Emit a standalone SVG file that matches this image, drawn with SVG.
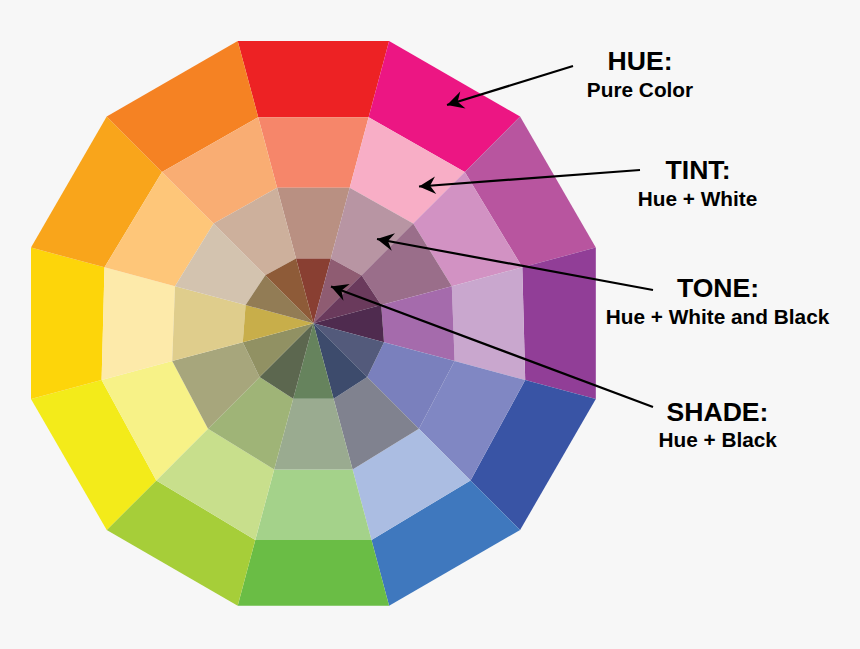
<svg xmlns="http://www.w3.org/2000/svg" width="860" height="649" viewBox="0 0 860 649">
<defs>
<style>
.lbl{font-family:"Liberation Sans",Arial,sans-serif;font-weight:bold;fill:#000;text-anchor:middle}
.t{font-size:26.6px}
.s{font-size:20.8px}
.arr{stroke:#000;stroke-width:2.2;fill:none;marker-end:url(#ah)}
</style>
<marker id="ah" markerUnits="userSpaceOnUse" markerWidth="20" markerHeight="20" viewBox="-16 -9 17 18" refX="0" refY="0" orient="auto">
<path d="M0,0 L-15,-8 L-10,0 L-15,8 Z" fill="#000"/>
</marker>
</defs>
<rect x="0" y="0" width="860" height="649" fill="#F7F7F7"/>
<g id="wheel">
<g id="hue-ring">
<polygon fill="#ED2224" points="237.7,40.9 389.1,40.9 368.6,117.2 258.2,117.2"/>
<polygon fill="#EC1683" points="389.1,40.9 520.1,116.6 464.8,171.9 368.6,117.2"/>
<polygon fill="#B8559F" points="520.1,116.6 595.8,247.6 522.3,267.3 464.8,171.9"/>
<polygon fill="#913E97" points="595.8,247.6 595.8,399.0 525.2,380.1 522.3,267.3"/>
<polygon fill="#3954A5" points="595.8,399.0 520.1,530.0 470.5,480.4 525.2,380.1"/>
<polygon fill="#3F78BE" points="520.1,530.0 389.1,605.7 371.5,540.0 470.5,480.4"/>
<polygon fill="#6ABD45" points="389.1,605.7 237.7,605.7 255.3,540.0 371.5,540.0"/>
<polygon fill="#A6CE39" points="237.7,605.7 106.7,530.0 156.3,480.4 255.3,540.0"/>
<polygon fill="#F3EB1A" points="106.7,530.0 31.0,399.0 101.6,380.1 156.3,480.4"/>
<polygon fill="#FDD50A" points="31.0,399.0 31.0,247.6 104.5,267.3 101.6,380.1"/>
<polygon fill="#F9A51B" points="31.0,247.6 106.7,116.6 162.0,171.9 104.5,267.3"/>
<polygon fill="#F58223" points="106.7,116.6 237.7,40.9 258.2,117.2 162.0,171.9"/>
</g>
<g id="tint-ring">
<polygon fill="#F6866A" points="258.2,117.2 368.6,117.2 349.7,187.8 277.1,187.8"/>
<polygon fill="#F8AEC6" points="368.6,117.2 464.8,171.9 413.2,223.5 349.7,187.8"/>
<polygon fill="#D292C3" points="464.8,171.9 522.3,267.3 451.8,286.2 413.2,223.5"/>
<polygon fill="#C9A7CE" points="522.3,267.3 525.2,380.1 454.6,361.1 451.8,286.2"/>
<polygon fill="#8087C3" points="525.2,380.1 470.5,480.4 418.9,428.8 454.6,361.1"/>
<polygon fill="#ABBDE2" points="470.5,480.4 371.5,540.0 352.6,469.4 418.9,428.8"/>
<polygon fill="#A4D28A" points="371.5,540.0 255.3,540.0 274.2,469.4 352.6,469.4"/>
<polygon fill="#C8DF8C" points="255.3,540.0 156.3,480.4 208.0,428.8 274.2,469.4"/>
<polygon fill="#F7F287" points="156.3,480.4 101.6,380.1 172.2,361.1 208.0,428.8"/>
<polygon fill="#FDEAAA" points="101.6,380.1 104.5,267.3 175.0,286.2 172.2,361.1"/>
<polygon fill="#FEC679" points="104.5,267.3 162.0,171.9 213.6,223.5 175.0,286.2"/>
<polygon fill="#F9AD73" points="162.0,171.9 258.2,117.2 277.1,187.8 213.6,223.5"/>
</g>
<g id="tone-ring">
<polygon fill="#B99082" points="277.1,187.8 349.7,187.8 330.8,258.4 296.0,258.4"/>
<polygon fill="#B895A3" points="349.7,187.8 413.2,223.5 361.5,275.2 330.8,258.4"/>
<polygon fill="#9A6E8A" points="413.2,223.5 451.8,286.2 381.2,305.1 361.5,275.2"/>
<polygon fill="#A56BAC" points="451.8,286.2 454.6,361.1 384.0,342.2 381.2,305.1"/>
<polygon fill="#7A80BD" points="454.6,361.1 418.9,428.8 367.2,377.1 384.0,342.2"/>
<polygon fill="#80828F" points="418.9,428.8 352.6,469.4 333.6,398.8 367.2,377.1"/>
<polygon fill="#9AAB90" points="352.6,469.4 274.2,469.4 293.2,398.8 333.6,398.8"/>
<polygon fill="#9FB477" points="274.2,469.4 208.0,428.8 259.6,377.1 293.2,398.8"/>
<polygon fill="#A7A67C" points="208.0,428.8 172.2,361.1 242.8,342.2 259.6,377.1"/>
<polygon fill="#DFCD8C" points="172.2,361.1 175.0,286.2 245.6,305.1 242.8,342.2"/>
<polygon fill="#D3C3AF" points="175.0,286.2 213.6,223.5 265.3,275.2 245.6,305.1"/>
<polygon fill="#CDB09C" points="213.6,223.5 277.1,187.8 296.0,258.4 265.3,275.2"/>
</g>
<g id="shade-ring">
<polygon fill="#893F32" points="296.0,258.4 330.8,258.4 313.4,323.3"/>
<polygon fill="#8F5C72" points="330.8,258.4 361.5,275.2 313.4,323.3"/>
<polygon fill="#6A3A5C" points="361.5,275.2 381.2,305.1 313.4,323.3"/>
<polygon fill="#4F2B4F" points="381.2,305.1 384.0,342.2 313.4,323.3"/>
<polygon fill="#535A7B" points="384.0,342.2 367.2,377.1 313.4,323.3"/>
<polygon fill="#3D4B6C" points="367.2,377.1 333.6,398.8 313.4,323.3"/>
<polygon fill="#66835D" points="333.6,398.8 293.2,398.8 313.4,323.3"/>
<polygon fill="#5C674F" points="293.2,398.8 259.6,377.1 313.4,323.3"/>
<polygon fill="#919163" points="259.6,377.1 242.8,342.2 313.4,323.3"/>
<polygon fill="#C8AE4A" points="242.8,342.2 245.6,305.1 313.4,323.3"/>
<polygon fill="#927C55" points="245.6,305.1 265.3,275.2 313.4,323.3"/>
<polygon fill="#8E5B38" points="265.3,275.2 296.0,258.4 313.4,323.3"/>
</g>
</g>
<g id="connectors">
<line class="arr" x1="573" y1="66" x2="447" y2="105"/>
<line class="arr" x1="640" y1="170" x2="419" y2="186.5"/>
<line class="arr" x1="653" y1="290" x2="377" y2="239"/>
<line class="arr" x1="653" y1="407" x2="331" y2="286.5"/>
</g>
<g id="label-hue">
<text class="lbl t" x="640" y="70">HUE:</text>
<text class="lbl s" x="640" y="96.7">Pure Color</text>
</g>
<g id="label-tint">
<text class="lbl t" x="698" y="179.3">TINT:</text>
<text class="lbl s" x="697.5" y="206">Hue + White</text>
</g>
<g id="label-tone">
<text class="lbl t" x="718" y="297.3">TONE:</text>
<text class="lbl s" x="717.5" y="324.3">Hue + White and Black</text>
</g>
<g id="label-shade">
<text class="lbl t" x="717.5" y="420.7">SHADE:</text>
<text class="lbl s" x="717.7" y="446.7">Hue + Black</text>
</g>
</svg>
